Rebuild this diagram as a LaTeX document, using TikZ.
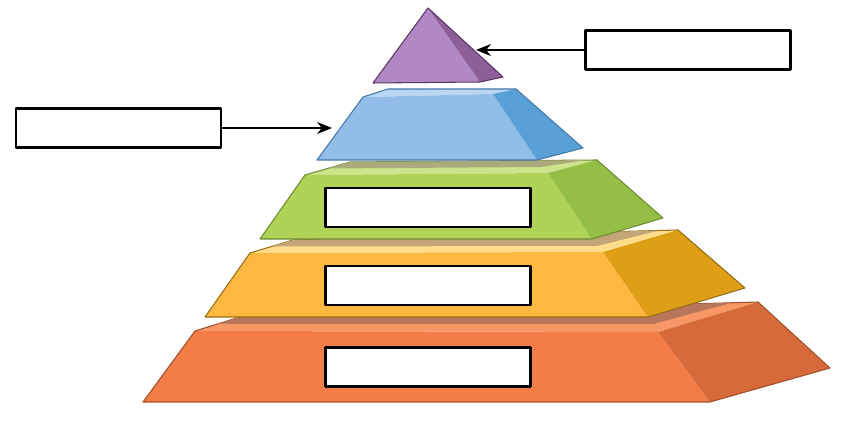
\documentclass[tikz,border=0pt]{standalone}
\usepackage{xcolor}
\usepackage{tikz}
\usetikzlibrary{calc,positioning,arrows.meta}

\definecolor{redfront}{RGB}{244,124,70}
\definecolor{redside}{RGB}{214,106,58}
\definecolor{redtop}{RGB}{248,150,102}
\definecolor{redshade}{RGB}{184,118,90}
\definecolor{redline}{RGB}{160,80,45}
\definecolor{orangefront}{RGB}{254,183,63}
\definecolor{orangeside}{RGB}{222,158,22}
\definecolor{orangetop}{RGB}{255,221,140}
\definecolor{orangeshade}{RGB}{195,165,120}
\definecolor{orangeline}{RGB}{150,110,20}
\definecolor{greenfront}{RGB}{176,210,86}
\definecolor{greenside}{RGB}{148,190,70}
\definecolor{greentop}{RGB}{205,228,140}
\definecolor{greenshade}{RGB}{170,170,125}
\definecolor{greenline}{RGB}{110,140,50}
\definecolor{bluefront}{RGB}{145,189,232}
\definecolor{blueside}{RGB}{88,160,214}
\definecolor{bluetop}{RGB}{185,215,242}
\definecolor{blueline}{RGB}{70,120,170}
\definecolor{purplefront}{RGB}{176,136,196}
\definecolor{purpleside}{RGB}{142,94,154}
\definecolor{purpleline}{RGB}{90,55,100}

\tikzset{
  labelbox/.style={draw=black,line width=1.2pt,fill=white,rectangle,inner sep=0pt,minimum width=4.1cm,minimum height=0.78cm},
  pointer/.style={-{Stealth[length=3mm,width=2.4mm]},line width=0.8pt,black}
}

\begin{document}
\begin{tikzpicture}[x=0.02cm,y=-0.02cm,line join=round]
\useasboundingbox (0,0) rectangle (845,421);
\newcommand{\drawtier}[1]{
\fill[#1top] (#1bkl) -- (#1bkr) -- (#1fr) -- (#1fl) -- cycle;
\fill[#1front] (#1bl) -- (#1fl) -- (#1fr) -- (#1brf) -- cycle;
\fill[#1side] (#1fr) -- (#1bkr) -- (#1br) -- (#1brf) -- cycle;
\draw[#1line,line width=0.6pt] (#1bl) -- (#1fl) -- (#1bkl) -- (#1bkr) -- (#1br) -- (#1brf) -- cycle;}
\newcommand{\drawshade}[2]{\fill[#1shade] (#1bkl) -- ($(#1bkr)!0.05!(#1bkl)$) -- ($(#2brf)+(5,7)$) -- ($(#1bkl)!0.5!(#1fl)$) -- cycle;}
% tier corners
\coordinate (redbl) at (143,402); \coordinate (redfl) at (195,331); \coordinate (redbkl) at (240,317);
\coordinate (redbkr) at (758,302); \coordinate (redfr) at (658,332); \coordinate (redbr) at (830,368); \coordinate (redbrf) at (710,402);
\coordinate (orangebl) at (205,317); \coordinate (orangefl) at (250,253); \coordinate (orangebkl) at (293,240);
\coordinate (orangebkr) at (678,230); \coordinate (orangefr) at (603,252); \coordinate (orangebr) at (745,288); \coordinate (orangebrf) at (648,317);
\coordinate (greenbl) at (260,239); \coordinate (greenfl) at (305,175); \coordinate (greenbkl) at (350,162);
\coordinate (greenbkr) at (597,160); \coordinate (greenfr) at (548,173); \coordinate (greenbr) at (663,218); \coordinate (greenbrf) at (592,239);
\coordinate (bluebl) at (317,160); \coordinate (bluefl) at (363,97); \coordinate (bluebkl) at (388,89);
\coordinate (bluebkr) at (516,89); \coordinate (bluefr) at (493,94); \coordinate (bluebr) at (583,148); \coordinate (bluebrf) at (537,160);
\coordinate (papex) at (428,8); \coordinate (pleft) at (373,83); \coordinate (pright) at (480,82); \coordinate (pback) at (503,77);
% tiers, bottom first
\drawtier{red}
\drawshade{red}{orange}
\drawtier{orange}
\drawshade{orange}{green}
\drawtier{green}
\drawshade{green}{blue}
\drawtier{blue}
\fill[purplefront] (papex) -- (pleft) -- (pright) -- cycle;
\fill[purpleside] (papex) -- (pright) -- (pback) -- cycle;
\draw[purpleline,line width=0.6pt] (papex) -- (pleft) -- (pright) -- (pback) -- cycle;
% boxes
\node[labelbox] (greenbox) at (428,207.5) {};
\node[labelbox] (orangebox) at (428,285.5) {};
\node[labelbox] (redbox) at (428,367) {};
\node[labelbox] (leftbox) at (118.5,128) {};
\node[labelbox] (rightbox) at (688,50) {};
\coordinate (bluetip) at (332,128);
\coordinate (purpletip) at (476,50);
\draw[pointer] (leftbox) -- (bluetip);
\draw[pointer] (rightbox) -- (purpletip);
\end{tikzpicture}
\end{document}
